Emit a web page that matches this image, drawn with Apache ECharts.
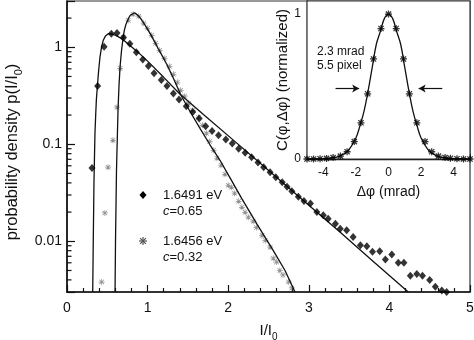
<!DOCTYPE html>
<html>
<head>
<meta charset="utf-8">
<script src="https://cdn.jsdelivr.net/npm/echarts@6/dist/echarts.min.js"></script>
<style>
  html, body { margin: 0; padding: 0; background: #fff; }
  #chart { width: 474px; height: 340px; }
</style>
</head>
<body>
<div id="chart"></div>
<script>
// Intensity histograms, 1.6491 eV (c=0.65) and 1.6456 eV (c=0.32)
const diamondX = [0.31,0.38,0.46,0.55,0.62,0.70,0.78,0.86,0.94,1.01,1.08,1.17,1.24,1.32,1.39,1.48,1.56,1.64,1.72,1.80,1.88,1.97,2.05,2.13,2.21,2.29,2.37,2.44,2.52,2.59,2.67,2.73,2.79,2.87,2.94,3.02,3.10,3.18,3.24,3.33,3.39,3.47,3.55,3.64,3.72,3.79,3.88,3.95,4.03,4.11,4.18,4.26,4.34,4.41,4.50,4.57,4.65,4.71];
const diamondY = [0.057,0.40,1.01,1.38,1.40,1.26,1.09,0.89,0.75,0.64,0.54,0.46,0.40,0.333,0.289,0.246,0.215,0.184,0.153,0.137,0.124,0.112,0.102,0.090,0.082,0.0735,0.065,0.058,0.0514,0.0457,0.0406,0.0365,0.0328,0.0288,0.026,0.0245,0.020,0.0185,0.0171,0.0152,0.0135,0.0130,0.0111,0.0091,0.0089,0.0078,0.0079,0.0065,0.0073,0.0060,0.0060,0.0044,0.0046,0.0044,0.0040,0.0034,0.0031,0.0030];

const starX = [0.43,0.47,0.51,0.57,0.62,0.66,0.70,0.76,0.82,0.89,0.95,1.00,1.05,1.10,1.15,1.21,1.27,1.32,1.37,1.41,1.46,1.51,1.56,1.63,1.68,1.73,1.77,1.82,1.86,1.91,1.96,2.00,2.04,2.08,2.13,2.17,2.21,2.25,2.31,2.35,2.42,2.46,2.52,2.56,2.60,2.64,2.68,2.75,2.79];
const starY = [0.0038,0.0196,0.058,0.110,0.241,0.607,1.27,1.90,2.19,2.09,1.77,1.57,1.33,1.10,0.93,0.77,0.637,0.527,0.436,0.36,0.313,0.265,0.224,0.19,0.157,0.13,0.107,0.0867,0.0718,0.0608,0.049,0.0378,0.036,0.0313,0.0258,0.0224,0.0199,0.0177,0.0161,0.0139,0.0115,0.0102,0.0087,0.0067,0.0061,0.0050,0.0045,0.0038,0.0033];

// fitted distributions
const fitAX = [0.319,0.326,0.335,0.347,0.356,0.364,0.376,0.393,0.409,0.43,0.45,0.478,0.512,0.56,0.62,0.70,0.80,0.90,1.0,1.2,1.4,1.7,2.1,2.52,2.95,3.39,3.80,4.234];
const fitAY = [0.003,0.0102,0.0425,0.13,0.20,0.284,0.39,0.58,0.79,1.02,1.18,1.31,1.38,1.37,1.31,1.19,1.01,0.86,0.72,0.49,0.33,0.20,0.104,0.052,0.0255,0.0124,0.0062,0.003];
const fitBX = [0.596,0.602,0.614,0.633,0.645,0.658,0.675,0.695,0.712,0.732,0.763,0.785,0.806,0.83,0.856,0.90,0.93,0.98,1.03,1.08,1.129,1.18,1.237,1.32,1.414,1.53,1.65,1.77,1.898,2.03,2.167,2.357,2.556,2.705,2.829];
const fitBY = [0.003,0.0102,0.054,0.224,0.40,0.622,0.90,1.24,1.50,1.73,1.99,2.14,2.24,2.26,2.22,2.05,1.90,1.63,1.39,1.17,0.977,0.82,0.668,0.48,0.32,0.215,0.146,0.10,0.0684,0.044,0.0277,0.015,0.0081,0.005,0.003];

// spatial correlation (inset)
const corrX = [-5.0,-4.6,-4.2,-3.8,-3.4,-2.95,-2.54,-2.1,-1.69,-1.28,-0.92,-0.46,0,0.47,0.92,1.28,1.74,2.24,2.65,3.06,3.47,3.8,4.2,4.6,5.0];
const corrY = [0,0,0.002,0.004,0.01,0.02,0.05,0.12,0.25,0.45,0.69,0.90,1.0,0.90,0.69,0.45,0.25,0.12,0.05,0.02,0.01,0.005,0.002,0,0];
const corrFitX = [-5,-4.5,-4,-3.5,-3,-2.5,-2,-1.75,-1.5,-1.25,-1,-0.75,-0.5,-0.25,0,0.25,0.5,0.75,1,1.25,1.5,1.75,2,2.5,3,3.5,4,4.5,5];
const corrFitY = [0,0.001,0.002,0.007,0.02,0.055,0.145,0.23,0.33,0.47,0.63,0.79,0.88,0.97,1.0,0.97,0.88,0.79,0.63,0.47,0.33,0.23,0.145,0.055,0.02,0.007,0.002,0.001,0];
const fwhmArrowLeft = [[-3.25, 0.486], [-1.8, 0.486]];
const fwhmArrowRight = [[3.3, 0.486], [1.85, 0.486]];

// axis ticks
const yTickValues = [0.01, 0.1, 1];
const yTickLabels = ['0.01', '0.1', '1'];
const yMinorTicks = [0.004,0.005,0.006,0.007,0.008,0.009,0.02,0.03,0.04,0.05,0.06,0.07,0.08,0.09,0.2,0.3,0.4,0.5,0.6,0.7,0.8,0.9,2];
const insetXLabels = [-4, -2, 0, 2, 4];
const insetYLabels = [0, 1];

const FONT = '"Liberation Sans", Arial, Helvetica, sans-serif';
const INK = '#111';

const zip = (xs, ys) => xs.map((x, i) => [x, ys[i]]);

// eight-armed asterisk marker
const ASTERISK = 'path://M4.4 0H5.6V10H4.4Z M0 4.4H10V5.6H0Z M0.8 1.65L1.65 0.8L9.2 8.35L8.35 9.2Z M8.35 0.8L9.2 1.65L1.65 9.2L0.8 8.35Z';
const BOLD_STAR = 'path://M4.1 0H5.9V10H4.1Z M0 4.1H10V5.9H0Z M0.6 1.9L1.9 0.6L9.4 8.1L8.1 9.4Z M8.1 0.6L9.4 1.9L1.9 9.4L0.6 8.1Z';

// legend asterisk built from four strokes around a centre point
function legendAsterisk(cx, cy, r) {
  const d = r * 0.72;
  const segs = [[0, -r, 0, r], [-r, 0, r, 0], [-d, -d, d, d], [d, -d, -d, d]];
  return segs.map(s => ({
    type: 'line', z: 20, silent: true,
    shape: { x1: cx + s[0], y1: cy + s[1], x2: cx + s[2], y2: cy + s[3] },
    style: { stroke: '#555', lineWidth: 1.2 }
  }));
}

const chart = echarts.init(document.getElementById('chart'), null, { renderer: 'canvas' });

const option = {
  backgroundColor: '#fff',
  animation: false,
  textStyle: { fontFamily: FONT },
  grid: [
    { left: 67, right: 4, top: 1, bottom: 48, outerBoundsMode: 'none', containLabel: false, show: true, borderColor: '#333', borderWidth: 1.2, backgroundColor: 'transparent' },
    { left: 307, right: 4, top: 1, bottom: 181, outerBoundsMode: 'none', containLabel: false, show: true, borderColor: '#333', borderWidth: 1.2, backgroundColor: '#fff', z: 5 }
  ],
  xAxis: [
    {
      gridIndex: 0, type: 'value', min: 0, max: 5, interval: 1,
      axisLine: { show: true, onZero: false, lineStyle: { color: INK, width: 1.6 } },
      axisTick: { show: true, inside: true, length: 7, lineStyle: { color: INK, width: 1.2 } },
      minorTick: { show: true, splitNumber: 5, length: 4, lineStyle: { color: INK, width: 1.2 } },
      splitLine: { show: false },
      axisLabel: { color: INK, fontSize: 14, margin: 9, fontFamily: FONT, showMaxLabel: true },
      name: 'I/I{sub|0}', nameLocation: 'middle', nameGap: 24,
      nameTextStyle: {
        color: INK, fontSize: 15, fontFamily: FONT, lineHeight: 22,
        rich: { sub: { fontSize: 10, lineHeight: 10, verticalAlign: 'bottom', fontFamily: FONT, color: INK } }
      }
    },
    {
      gridIndex: 1, type: 'value', min: -5, max: 5, interval: 1,
      axisLine: { show: true, onZero: false, lineStyle: { color: INK, width: 1.4 } },
      axisTick: { show: true, inside: true, length: 5, lineStyle: { color: INK, width: 1 } },
      minorTick: { show: true, splitNumber: 2, length: 3, lineStyle: { color: INK, width: 1 } },
      splitLine: { show: false },
      axisLabel: {
        color: INK, fontSize: 12, margin: 8, fontFamily: FONT,
        formatter: v => insetXLabels.indexOf(v) >= 0 ? String(v) : ''
      },
      name: 'Δφ (mrad)', nameLocation: 'middle', nameGap: 26,
      nameTextStyle: { color: INK, fontSize: 14, fontFamily: FONT }
    }
  ],
  yAxis: [
    {
      gridIndex: 0, type: 'log', logBase: 10, min: 0.003, max: 3,
      axisLine: { show: true, onZero: false, lineStyle: { color: INK, width: 1.6 } },
      axisTick: { show: true, inside: true, length: 8, lineStyle: { color: INK, width: 1.2 } },
      minorTick: { show: false },
      splitLine: { show: false },
      axisLabel: {
        color: INK, fontSize: 14, margin: 5, fontFamily: FONT,
        formatter: v => {
          for (let i = 0; i < yTickValues.length; i++) {
            if (Math.abs(v / yTickValues[i] - 1) < 1e-6) return yTickLabels[i];
          }
          return '';
        }
      }
    },
    {
      gridIndex: 1, type: 'value', min: 0, max: 1.09, interval: 0.25,
      axisLine: { show: true, onZero: false, lineStyle: { color: INK, width: 1.4 } },
      axisTick: { show: true, inside: true, length: 5, lineStyle: { color: INK, width: 1 } },
      splitLine: { show: false },
      axisLabel: {
        color: INK, fontSize: 12, margin: 6, fontFamily: FONT,
        formatter: v => insetYLabels.indexOf(v) >= 0 ? String(v) : ''
      },
      name: 'C(φ,Δφ) (normalized)', nameLocation: 'middle', nameGap: 16,
      nameTextStyle: { color: INK, fontSize: 15, fontFamily: FONT }
    }
  ],
  series: [
    {
      name: 'fit 1.6491 eV', type: 'line', xAxisIndex: 0, yAxisIndex: 0,
      data: zip(fitAX, fitAY), showSymbol: false, smooth: false,
      lineStyle: { color: INK, width: 1.3 }, z: 3, silent: true
    },
    {
      name: 'fit 1.6456 eV', type: 'line', xAxisIndex: 0, yAxisIndex: 0,
      data: zip(fitBX, fitBY), showSymbol: false, smooth: false,
      lineStyle: { color: INK, width: 1.3 }, z: 3, silent: true
    },
    {
      name: '1.6456 eV', type: 'scatter', xAxisIndex: 0, yAxisIndex: 0,
      data: zip(starX, starY), symbol: ASTERISK, symbolSize: 6,
      itemStyle: { color: '#777' }, z: 2
    },
    {
      name: '1.6491 eV', type: 'scatter', xAxisIndex: 0, yAxisIndex: 0,
      data: zip(diamondX, diamondY), symbol: 'diamond', symbolSize: [7, 8],
      itemStyle: { color: '#000' }, z: 4
    },
    {
      // minor decade ticks on the log axis
      type: 'custom', xAxisIndex: 0, yAxisIndex: 0, silent: true, clip: false, z: 6,
      data: yMinorTicks.map(v => [0, v]),
      renderItem: (params, api) => {
        const p = api.coord([0, api.value(1)]);
        return { type: 'line', shape: { x1: p[0], y1: p[1], x2: p[0] + 4.5, y2: p[1] }, style: { stroke: INK, lineWidth: 1.2 } };
      }
    },
    {
      name: 'correlation fit', type: 'line', xAxisIndex: 1, yAxisIndex: 1,
      data: zip(corrFitX, corrFitY), showSymbol: false, smooth: 0.4,
      lineStyle: { color: INK, width: 1.3 }, z: 10, silent: true,
      markLine: {
        silent: true, symbol: ['none', 'arrow'], symbolSize: [6, 7],
        lineStyle: { color: INK, width: 1.2, type: 'solid' }, label: { show: false },
        data: [
          [{ coord: fwhmArrowLeft[0] }, { coord: fwhmArrowLeft[1] }],
          [{ coord: fwhmArrowRight[0] }, { coord: fwhmArrowRight[1] }]
        ]
      }
    },
    {
      name: 'correlation', type: 'scatter', xAxisIndex: 1, yAxisIndex: 1,
      data: zip(corrX, corrY), symbol: BOLD_STAR, symbolSize: 7,
      itemStyle: { color: '#000' }, z: 11
    }
  ],
  graphic: [
    {
      type: 'text', x: 12, y: 152, rotation: Math.PI / 2, z: 20,
      style: {
        text: 'probability density p(I/I{sub|0})', align: 'center', verticalAlign: 'middle',
        font: '16.5px ' + FONT, fill: INK, lineHeight: 24,
        rich: { sub: { fontSize: 11, lineHeight: 11, verticalAlign: 'bottom', fontFamily: FONT, fill: INK } }
      }
    },
    // legend
    { type: 'polygon', z: 20, shape: { points: [[143, 191], [146.5, 195], [143, 199], [139.5, 195]] }, style: { fill: '#000' } },
    ...legendAsterisk(143, 241, 4),
    { type: 'text', x: 163, y: 195, z: 20, style: { text: '1.6491 eV', verticalAlign: 'middle', font: '13px ' + FONT, fill: INK } },
    { type: 'text', x: 163, y: 211, z: 20, style: { text: '{i|c}=0.65', verticalAlign: 'middle', font: '13px ' + FONT, fill: INK, rich: { i: { fontStyle: 'italic', fontSize: 13, fontFamily: FONT, fill: INK } } } },
    { type: 'text', x: 163, y: 241, z: 20, style: { text: '1.6456 eV', verticalAlign: 'middle', font: '13px ' + FONT, fill: INK } },
    { type: 'text', x: 163, y: 257, z: 20, style: { text: '{i|c}=0.32', verticalAlign: 'middle', font: '13px ' + FONT, fill: INK, rich: { i: { fontStyle: 'italic', fontSize: 13, fontFamily: FONT, fill: INK } } } },
    // inset annotation
    { type: 'text', x: 317, y: 52, z: 20, style: { text: '2.3 mrad', verticalAlign: 'middle', font: '12px ' + FONT, fill: INK } },
    { type: 'text', x: 317, y: 66, z: 20, style: { text: '5.5 pixel', verticalAlign: 'middle', font: '12px ' + FONT, fill: INK } }
  ]
};

chart.setOption(option);
</script>
</body>
</html>
